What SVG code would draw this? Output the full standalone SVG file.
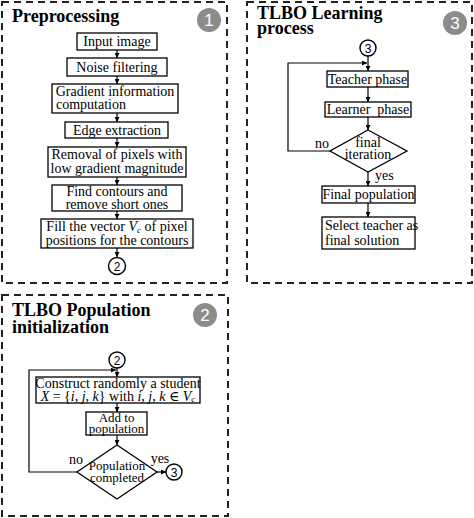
<svg xmlns="http://www.w3.org/2000/svg" width="474" height="518" viewBox="0 0 474 518">
<defs>
<marker id="ah" viewBox="0 0 8 8" refX="8" refY="4" markerWidth="5" markerHeight="5" orient="auto" markerUnits="userSpaceOnUse"><path d="M0,0 L8,4 L0,8 z" fill="#000"/></marker>
<style>
.panel{fill:none;stroke:#222;stroke-width:2;stroke-dasharray:7,5}
.box{fill:#fff;stroke:#000;stroke-width:1.3}
.t{font-family:"Liberation Serif","DejaVu Serif",serif;font-size:14px;fill:#000;text-anchor:middle}
.s{font-size:13px}
.tl{text-anchor:start}
.title{font-family:"Liberation Serif","DejaVu Serif",serif;font-size:18px;font-weight:bold;fill:#000}
.badge{fill:#8c8c8c}
.btxt{font-family:"Liberation Sans","DejaVu Sans",sans-serif;font-size:17px;fill:#fff;text-anchor:middle}
.conn{fill:none;stroke:#000;stroke-width:1.2}
.circ{fill:#fff;stroke:#000;stroke-width:1.4}
.ct{font-family:"Liberation Sans","DejaVu Sans",sans-serif;font-size:12px;fill:#000;text-anchor:middle}
.i{font-style:italic}
</style>
</defs>
<rect width="474" height="518" fill="#fff"/>

<g id="panel1">
<rect class="panel" x="2" y="2" width="225" height="281"/>
<text class="title" x="12" y="22">Preprocessing</text>
<circle class="badge" cx="209" cy="20" r="12"/>
<text class="btxt" x="209" y="26">1</text>
</g>
<g id="panel3">
<rect class="panel" x="247" y="2" width="225" height="281"/>
<text class="title" x="257" y="19">TLBO Learning</text>
<text class="title" x="257" y="34">process</text>
<circle class="badge" cx="455" cy="23" r="12"/>
<text class="btxt" x="455" y="29">3</text>
</g>
<g id="panel2">
<rect class="panel" x="2" y="295" width="226" height="221"/>
<text class="title" x="12" y="316">TLBO Population</text>
<text class="title" x="12" y="333">initialization</text>
<circle class="badge" cx="205" cy="315" r="12"/>
<text class="btxt" x="205" y="321">2</text>
</g>

<g id="connectors">
<line class="conn" x1="117" y1="50" x2="117" y2="58" marker-end="url(#ah)"/>
<line class="conn" x1="117" y1="76" x2="117" y2="84" marker-end="url(#ah)"/>
<line class="conn" x1="117" y1="113" x2="117" y2="122" marker-end="url(#ah)"/>
<line class="conn" x1="117" y1="138" x2="117" y2="147" marker-end="url(#ah)"/>
<line class="conn" x1="117" y1="177" x2="117" y2="185" marker-end="url(#ah)"/>
<line class="conn" x1="117" y1="211" x2="117" y2="219" marker-end="url(#ah)"/>
<line class="conn" x1="117" y1="248" x2="117" y2="257" marker-end="url(#ah)"/>

<line class="conn" x1="368" y1="56" x2="368" y2="71" marker-end="url(#ah)"/>
<polyline class="conn" points="330,151 288,151 288,63 367,63" marker-end="url(#ah)"/>
<line class="conn" x1="368" y1="87" x2="368" y2="102" marker-end="url(#ah)"/>
<line class="conn" x1="368" y1="117" x2="368" y2="130" marker-end="url(#ah)"/>
<line class="conn" x1="368" y1="172" x2="368" y2="186" marker-end="url(#ah)"/>
<line class="conn" x1="368" y1="203" x2="368" y2="217" marker-end="url(#ah)"/>

<line class="conn" x1="117" y1="368" x2="117" y2="377" marker-end="url(#ah)"/>
<polyline class="conn" points="77,472 29,472 29,370 116,370" marker-end="url(#ah)"/>
<line class="conn" x1="117" y1="403" x2="117" y2="412" marker-end="url(#ah)"/>
<line class="conn" x1="117" y1="435" x2="117" y2="445" marker-end="url(#ah)"/>
<line class="conn" x1="157" y1="472" x2="166" y2="472" marker-end="url(#ah)"/>
</g>

<g id="input-image"><rect class="box" x="77" y="33" width="80" height="17"/><text class="t" x="117" y="46">Input image</text></g>
<g id="noise-filtering"><rect class="box" x="67" y="58" width="100" height="18"/><text class="t" x="117" y="72">Noise filtering</text></g>
<g id="gradient"><rect class="box" x="52" y="84" width="126" height="29"/><text class="t" x="115" y="96">Gradient information</text><text class="t tl" x="56" y="109">computation</text></g>
<g id="edge-extraction"><rect class="box" x="65" y="122" width="103" height="16"/><text class="t" x="117" y="134.5">Edge extraction</text></g>
<g id="removal"><rect class="box" x="48" y="147" width="138" height="30"/><text class="t" x="117" y="159">Removal of pixels with</text><text class="t" x="117" y="172.5">low gradient magnitude</text></g>
<g id="find-contours"><rect class="box" x="52" y="185" width="130" height="26"/><text class="t" x="117" y="196">Find contours and</text><text class="t" x="117" y="208.5">remove short ones</text></g>
<g id="fill-vector"><rect class="box" x="41" y="219" width="152" height="29"/><text class="t" x="117" y="231">Fill the vector <tspan class="i">V</tspan><tspan class="i" font-size="9" dy="1.5">c</tspan><tspan dy="-1.5"> of pixel</tspan></text><text class="t" x="117" y="244.5">positions for the contours</text></g>
<g id="conn-2a"><circle class="circ" cx="117" cy="266" r="8.5"/><text class="ct" x="117" y="270.5">2</text></g>

<g id="conn-3a"><circle class="circ" cx="368" cy="48" r="8"/><text class="ct" x="368" y="52.5">3</text></g>
<g id="teacher-phase"><rect class="box" x="327" y="71" width="81" height="16"/><text class="t" x="367.5" y="83.5">Teacher phase</text></g>
<g id="learner-phase"><rect class="box" x="325" y="102" width="86" height="15"/><text class="t" x="368" y="114" xml:space="preserve">Learner  phase</text></g>
<g id="final-iteration"><polygon class="box" points="368,130 407,151 368,172 330,151"/><text class="t" x="368" y="147">final</text><text class="t" x="368" y="159">iteration</text><text class="t" x="322" y="148">no</text><text class="t tl" x="375" y="180">yes</text></g>
<g id="final-population"><rect class="box" x="322" y="186" width="93" height="17"/><text class="t" x="368.5" y="199">Final population</text></g>
<g id="select-teacher"><rect class="box" x="322" y="217" width="93" height="32"/><text class="t tl" x="325" y="230">Select teacher as</text><text class="t tl" x="325" y="245">final solution</text></g>

<g id="conn-2b"><circle class="circ" cx="117" cy="360" r="8"/><text class="ct" x="117" y="364.5">2</text></g>
<g id="construct"><rect class="box" x="36" y="377" width="164" height="26"/><text class="t" x="118" y="388">Construct randomly a student</text><text class="t" x="118" y="400.5"><tspan class="i">X</tspan> = {<tspan class="i">i</tspan>, <tspan class="i">j</tspan>, <tspan class="i">k</tspan>} with <tspan class="i">i</tspan>, <tspan class="i">j</tspan>, <tspan class="i">k</tspan> ∈ <tspan class="i">V</tspan><tspan class="i" font-size="9" dy="1.5">c</tspan></text></g>
<g id="add-population"><rect class="box" x="86" y="412" width="61" height="23"/><text class="t s" x="116.5" y="421.5">Add to</text><text class="t s" x="116.5" y="432.5">population</text></g>
<g id="population-completed"><polygon class="box" points="117,445 157,472 117,499 77,472"/><text class="t s" x="117" y="470">Population</text><text class="t s" x="117" y="481.5">completed</text><text class="t" x="76" y="464">no</text><text class="t" x="160" y="463">yes</text></g>
<g id="conn-3b"><circle class="circ" cx="174" cy="472" r="8"/><text class="ct" x="174" y="476.5">3</text></g>
</svg>
